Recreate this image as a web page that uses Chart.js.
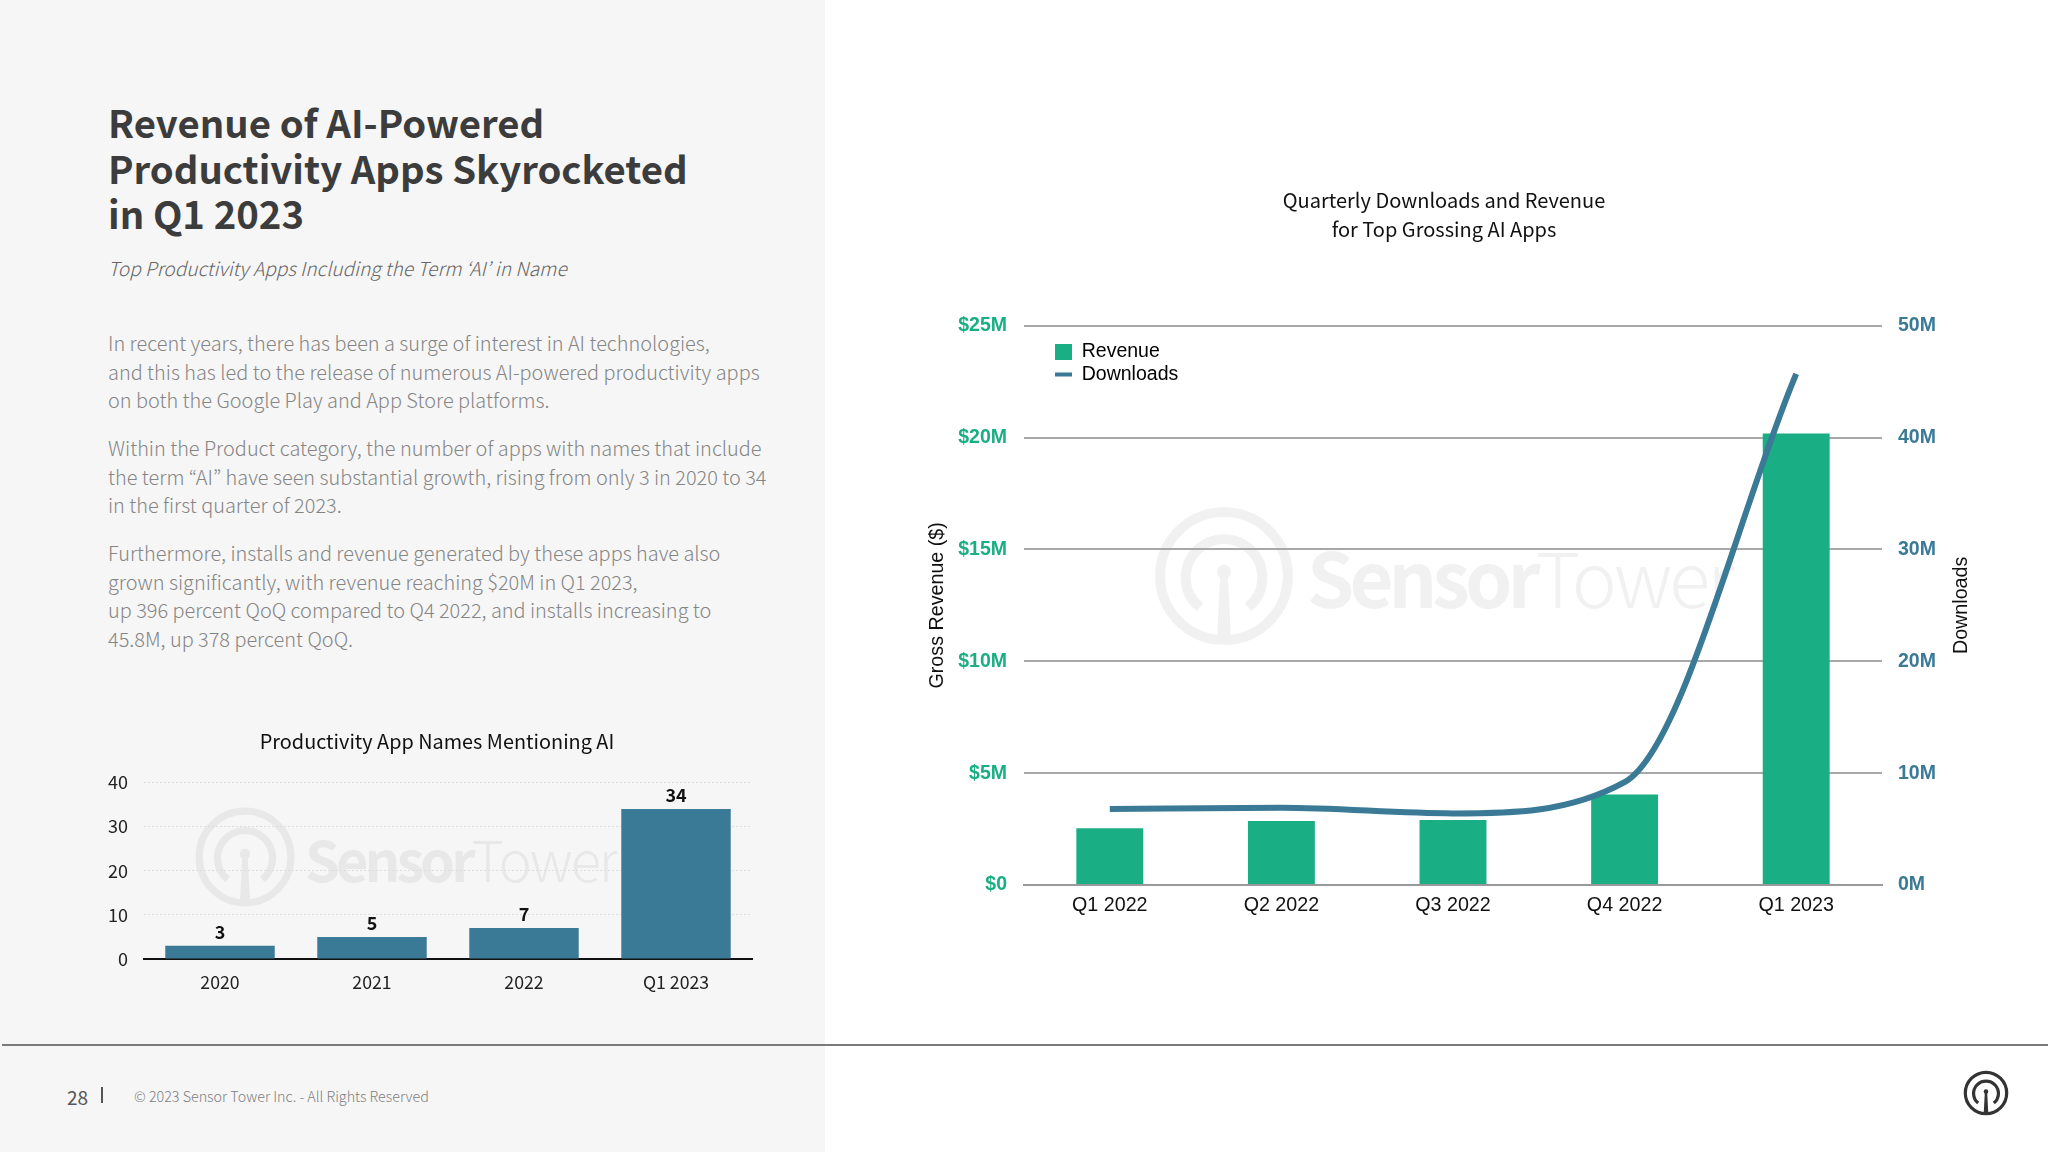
<!DOCTYPE html>
<html>
  <head>
    <meta charset="utf-8" />
    <script src="https://cdn.jsdelivr.net/npm/chart.js@4/dist/chart.umd.min.js"></script>
    <style>
      html, body { margin: 0; padding: 0; background: #fff; }
      body { width: 2048px; height: 1152px; position: relative; overflow: hidden; font-family: "Noto Sans CJK JP", "Noto Sans", sans-serif; }
      .abs { position: absolute; white-space: nowrap; }
      #panel { left: 0; top: 0; width: 825px; height: 1152px; background: #f6f6f6; }
      #heading { left: 108px; top: 99px; font-size: 38.3px; line-height: 45.7px; font-weight: 700; color: #3c3c3c; }
      #sub { left: 108px; top: 253px; font-size: 19.1px; line-height: 30px; font-style: italic; font-weight: 300; color: #666; }
      .para { left: 108px; font-size: 19.9px; line-height: 28.7px; font-weight: 300; color: #858585; }
      #rule { left: 2px; top: 1044px; width: 2046px; height: 2px; background: #7a7a7a; }
      #pageno { left: 67px; top: 1082px; font-size: 19px; line-height: 30px; color: #555; }
      #pagebar { left: 101px; top: 1087px; width: 2px; height: 16px; background: #555; }
      #copy { left: 134px; top: 1084px; font-size: 14.3px; line-height: 24px; font-weight: 300; color: #808080; }
      .mark-text { color: #f1f1f1; overflow: hidden; }
      .mark-text b { font-weight: 700; }
      .mark-text span { font-weight: 300; }
      canvas { position: absolute; }
    </style>
  </head>
  <body>
    <div class="abs" id="panel"></div>

    <svg width="0" height="0" style="position:absolute">
      <symbol id="logo" viewBox="-50 -50 100 100">
        <circle cx="0" cy="0" r="45" fill="none" stroke="currentColor" stroke-width="7" />
        <path d="M -17 22 A 27 27 0 1 1 17 22" fill="none" stroke="currentColor" stroke-width="7" />
        <circle cx="0" cy="-3" r="5" fill="currentColor" />
        <path d="M -2.5 -3 L 2.5 -3 L 5 45 L -5 45 Z" fill="currentColor" />
      </symbol>
    </svg>

    <svg class="abs" style="left:1153px;top:505px;color:#f1f1f1" width="142" height="142"><use href="#logo" /></svg>
    <div class="abs mark-text" style="left:1307px;top:520px;width:428px;height:110px;font-size:76px;line-height:110px;letter-spacing:-3px"><b style="letter-spacing:-5px">Sensor</b><span>Tower</span></div>
    <svg class="abs" style="left:194px;top:806px;color:#e8e8e8" width="102" height="102"><use href="#logo" /></svg>
    <div class="abs mark-text" style="left:305px;top:818px;width:312px;height:80px;font-size:56px;line-height:80px;letter-spacing:-2px;color:#e8e8e8"><b style="letter-spacing:-4px">Sensor</b><span>Tower</span></div>

    <div class="abs" id="heading">Revenue of AI-Powered<br />Productivity Apps Skyrocketed<br />in Q1 2023</div>
    <div class="abs" id="sub">Top Productivity Apps Including the Term ‘AI’ in Name</div>
    <div class="abs para" style="top:329px">In recent years, there has been a surge of interest in AI technologies,<br />and this has led to the release of numerous AI-powered productivity apps<br />on both the Google Play and App Store platforms.</div>
    <div class="abs para" style="top:434px">Within the Product category, the number of apps with names that include<br />the term “AI” have seen substantial growth, rising from only 3 in 2020 to 34<br />in the first quarter of 2023.</div>
    <div class="abs para" style="top:539px">Furthermore, installs and revenue generated by these apps have also<br />grown significantly, with revenue reaching $20M in Q1 2023,<br />up 396 percent QoQ compared to Q4 2022, and installs increasing to<br />45.8M, up 378 percent QoQ.</div>

    <div class="abs" id="rule"></div>
    <div class="abs" id="pageno">28</div>
    <div class="abs" id="pagebar"></div>
    <div class="abs" id="copy">© 2023 Sensor Tower Inc. - All Rights Reserved</div>
    <svg class="abs" style="left:1963px;top:1070px;color:#333" width="46" height="46"><use href="#logo" /></svg>

    <canvas id="mainChart" style="left:900px;top:180px;width:1088px;height:765px"></canvas>
    <canvas id="smallChart" style="left:80px;top:720px;width:714px;height:279px"></canvas>

    <script>
      const quarters = ["Q1 2022", "Q2 2022", "Q3 2022", "Q4 2022", "Q1 2023"];
      const revenue = [2.54, 2.86, 2.9, 4.04, 20.18];
      const downloads = [6.8, 6.9, 6.4, 9.2, 45.7];
      const revenueTicks = [0, 5, 10, 15, 20, 25];
      const downloadTicks = [0, 10, 20, 30, 40, 50];

      const years = ["2020", "2021", "2022", "Q1 2023"];
      const appNames = [3, 5, 7, 34];

      const green = "#1aae84";
      const teal = "#3a7a96";
      const cjk = '"Noto Sans CJK JP", "Noto Sans", sans-serif';
      const arial = '"Liberation Sans", Arial, sans-serif';

      Chart.defaults.animation = false;
      Chart.defaults.responsive = false;
      Chart.defaults.devicePixelRatio = 1;

      // legend sits inside the plot, nudged off the corner.
      // chartArea legends get top reset to 0 by layout, so set it from the area
      const legendOffset = {
        id: "legendOffset",
        afterLayout(chart) {
          chart.legend.left += 28;
          chart.legend.top = chart.chartArea.top + 13.5;
        }
      };

      // right axis title reads upwards here, chart.js would turn it the other way
      const rightTitle = {
        id: "rightTitle",
        afterDraw(chart) {
          const ctx = chart.ctx;
          const area = chart.chartArea;
          ctx.save();
          ctx.translate(area.right + 79.5, (area.top + area.bottom) / 2);
          ctx.rotate(-Math.PI / 2);
          ctx.font = "19.7px " + arial;
          ctx.fillStyle = "#111";
          ctx.textAlign = "center";
          ctx.textBaseline = "middle";
          ctx.fillText("Downloads", 0, 0);
          ctx.restore();
        }
      };

      // title is centred on the page block, not on the plot
      const titleOffset = {
        id: "titleOffset",
        afterLayout(chart) {
          chart.titleBlock.left += 42;
        }
      };

      const barLabels = {
        id: "barLabels",
        afterDatasetsDraw(chart) {
          const ctx = chart.ctx;
          const meta = chart.getDatasetMeta(0);
          ctx.save();
          ctx.font = "700 18px " + cjk;
          ctx.fillStyle = "#111";
          ctx.textAlign = "center";
          ctx.textBaseline = "bottom";
          meta.data.forEach((bar, i) => {
            ctx.fillText(appNames[i], bar.x, bar.y - 4.5);
          });
          ctx.restore();
        }
      };

      const mainCanvas = document.getElementById("mainChart");
      mainCanvas.width = 1088;
      mainCanvas.height = 765;
      new Chart(mainCanvas.getContext("2d"), {
        type: "bar",
        plugins: [legendOffset, rightTitle],
        data: {
          labels: quarters,
          datasets: [
            {
              type: "line",
              label: "Downloads",
              data: downloads,
              yAxisID: "yRight",
              borderColor: teal,
              backgroundColor: teal,
              borderWidth: 6,
              cubicInterpolationMode: "monotone",
              pointRadius: 0,
              fill: false,
              order: 1
            },
            {
              label: "Revenue",
              data: revenue,
              yAxisID: "yLeft",
              backgroundColor: green,
              barPercentage: 0.39,
              categoryPercentage: 1,
              order: 2
            }
          ]
        },
        options: {
          plugins: {
            title: {
              display: true,
              text: ["Quarterly Downloads and Revenue", "for Top Grossing AI Apps"],
              color: "#111",
              font: { family: cjk, size: 20, weight: "400", lineHeight: 1.43 },
              padding: { top: 6.5, bottom: 82 }
            },
            legend: {
              position: "chartArea",
              align: "start",
              labels: {
                usePointStyle: true,
                pointStyleWidth: 17,
                boxHeight: 16,
                padding: 3,
                color: "#111",
                font: { family: arial, size: 19.5, lineHeight: 1 },
                generateLabels: () => [
                  { text: "Revenue", pointStyle: "rect", fillStyle: green, strokeStyle: green, lineWidth: 0, datasetIndex: 1 },
                  { text: "Downloads", pointStyle: "line", fillStyle: teal, strokeStyle: teal, lineWidth: 4, datasetIndex: 0 }
                ]
              }
            }
          },
          scales: {
            x: {
              afterFit(scale) { scale.height = 60; },
              grid: { display: false, drawTicks: false },
              border: { color: "#999", width: 2 },
              ticks: { padding: 9, color: "#111", font: { family: arial, size: 19.7 }, maxRotation: 0 }
            },
            yLeft: {
              position: "left",
              min: 0,
              max: 25,
              afterFit(scale) { scale.width = 124; },
              afterBuildTicks(scale) { scale.ticks = revenueTicks.map(value => ({ value })); },
              grid: { color: "#a8a8a8", lineWidth: 2, drawTicks: false },
              border: { display: false },
              ticks: {
                padding: 17,
                color: green,
                font: { family: arial, size: 19.5, weight: "700" },
                callback: v => (v === 0 ? "$0" : "$" + v + "M")
              },
              title: { display: true, text: "Gross Revenue ($)", color: "#111", font: { family: arial, size: 19.7 }, padding: { top: 25.5, bottom: 0 } }
            },
            yRight: {
              position: "right",
              min: 0,
              max: 50,
              afterFit(scale) { scale.width = 106; },
              afterBuildTicks(scale) { scale.ticks = downloadTicks.map(value => ({ value })); },
              grid: { drawOnChartArea: false, drawTicks: false },
              border: { display: false },
              ticks: {
                padding: 16,
                color: teal,
                font: { family: arial, size: 19.5, weight: "700" },
                callback: v => v + "M"
              }
            }
          }
        }
      });

      const smallCanvas = document.getElementById("smallChart");
      smallCanvas.width = 714;
      smallCanvas.height = 279;
      new Chart(smallCanvas.getContext("2d"), {
        type: "bar",
        plugins: [barLabels, titleOffset],
        data: {
          labels: years,
          datasets: [
            {
              label: "Productivity App Names Mentioning AI",
              data: appNames,
              backgroundColor: teal,
              barPercentage: 0.72,
              categoryPercentage: 1
            }
          ]
        },
        options: {
          layout: { padding: { right: 42 } },
          plugins: {
            legend: { display: false },
            title: {
              display: true,
              text: "Productivity App Names Mentioning AI",
              color: "#111",
              font: { family: cjk, size: 19.85, weight: "400", lineHeight: 1.36 },
              padding: { top: 8, bottom: 27.5 }
            }
          },
          scales: {
            x: {
              afterFit(scale) { scale.height = 40; },
              grid: { display: false, drawTicks: false },
              border: { color: "#111", width: 2 },
              ticks: { padding: 13, color: "#222", font: { family: cjk, size: 17.7 }, maxRotation: 0 }
            },
            y: {
              min: 0,
              max: 40,
              afterFit(scale) { scale.width = 64; },
              grid: { color: "#ddd", lineWidth: 1, drawTicks: false },
              border: { display: false, dash: [2, 2] },
              ticks: { stepSize: 10, padding: 16, color: "#222", font: { family: cjk, size: 18 } }
            }
          }
        }
      });
    </script>
  </body>
</html>
